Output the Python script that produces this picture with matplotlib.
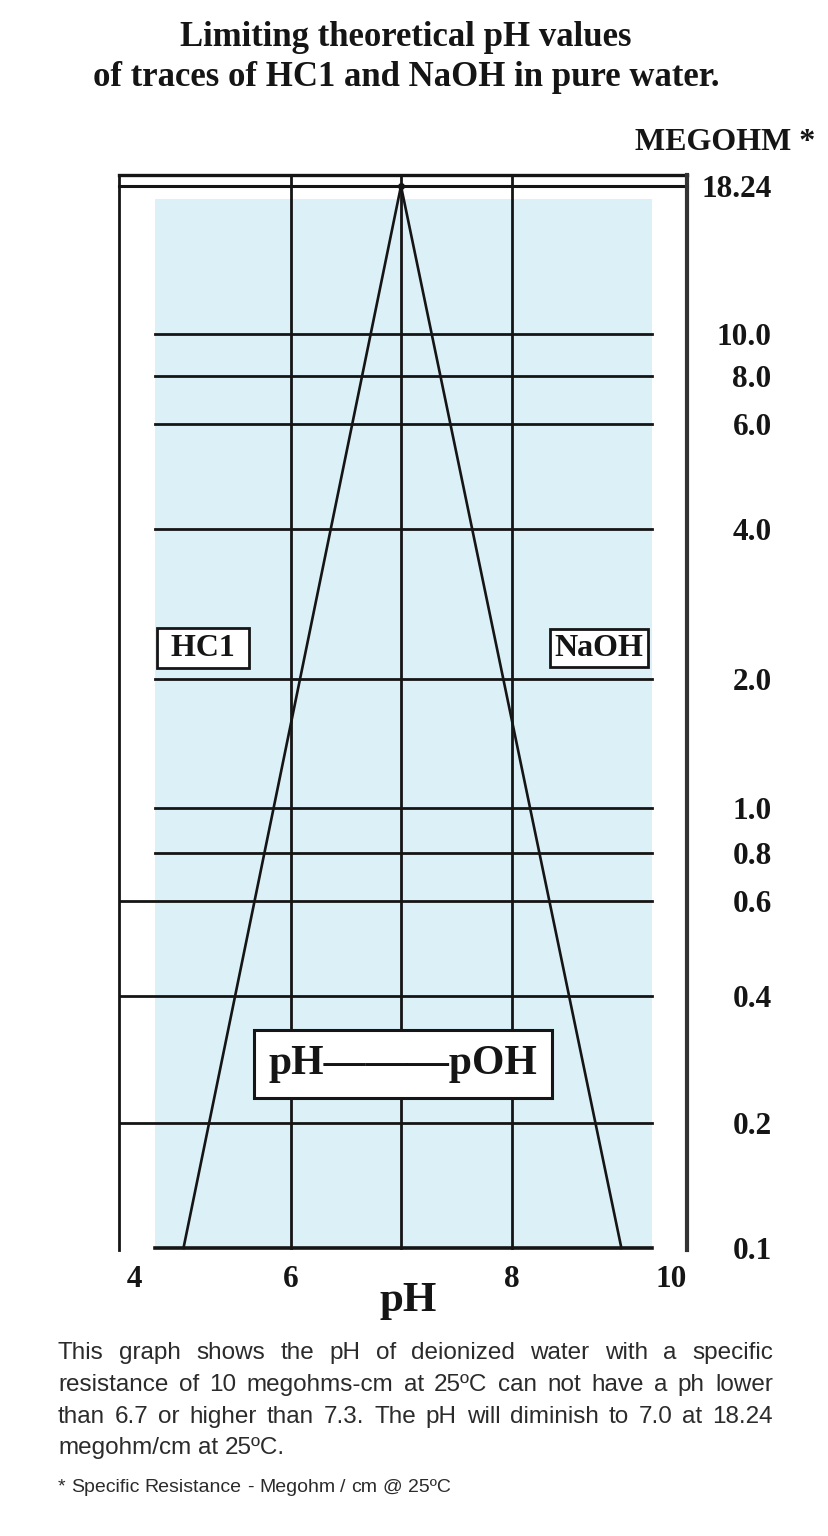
import numpy as np
import matplotlib
matplotlib.use("Agg")
import matplotlib.pyplot as plt
from matplotlib.patches import Rectangle

# printed scales of the original chart are not uniform, so calibrate them
ph_marks = [4, 6, 7, 8, 10]
ph_pix = [119, 291, 401, 512, 687]
res_marks = [0.1, 0.2, 0.4, 0.6, 0.8, 1.0, 2.0, 4.0, 6.0, 8.0, 10.0, 18.24]
res_pix = [1248, 1123, 996, 901, 853, 808, 679, 529, 424, 376, 334, 186]

# data
res_ticks = [0.1, 0.2, 0.4, 0.6, 0.8, 1.0, 2.0, 4.0, 6.0, 8.0, 10.0, 18.24]
res_labels = ["0.1", "0.2", "0.4", "0.6", "0.8", "1.0", "2.0", "4.0", "6.0", "8.0", "10.0", "18.24"]
ph_ticks = [4, 6, 8, 10]
ph_labels = [" 4", "6", "8", "10"]
grid_ph = [6, 7, 8]
grid_res_short = [0.8, 1.0, 2.0, 4.0, 6.0, 8.0, 10.0]
grid_res_long = [0.2, 0.4, 0.6]
line_res = [18.24, 0.1]
hcl_ph = [7.0, 4.75]
naoh_ph = [7.0, 9.25]

para = ["This graph shows the pH of deionized water with a specific",
        "resistance of 10 megohms-cm at 25ºC can not have a ph lower",
        "than 6.7 or higher than 7.3. The pH will diminish to 7.0 at 18.24",
        "megohm/cm at 25ºC."]
foot = "* Specific Resistance - Megohm / cm @ 25ºC"

W, H = 829, 1536
SERIF = "Liberation Serif"
SANS = "Liberation Sans"
INK = "#151515"

def fwd_x(x):
    return np.interp(x, ph_marks, ph_pix)

def inv_x(p):
    return np.interp(p, ph_pix, ph_marks)

lr = np.log10(res_marks)
ry = -np.array(res_pix, dtype=float)

def fwd_y(v):
    v = np.clip(np.asarray(v, dtype=float), 1e-6, None)
    return np.interp(np.log10(v), lr, ry)

def inv_y(p):
    return 10 ** np.interp(p, ry, lr)

fig = plt.figure(figsize=(W / 100, H / 100), dpi=100)
ax = fig.add_axes([119 / W, (H - 1248) / H, (687 - 119) / W, (1248 - 186) / H])
ax.set_xscale("function", functions=(fwd_x, inv_x))
ax.set_yscale("function", functions=(fwd_y, inv_y))
ax.set_xlim(4, 10)
ax.set_ylim(0.1, 18.24)
for s in ax.spines.values():
    s.set_visible(False)

# axes-fraction helpers for the frame decorations
def fx(px):
    return (px - 119) / 568

def fy(py):
    return (1248 - py) / 1062

ax.add_patch(Rectangle((fx(155), 0), fx(652) - fx(155), fy(199), transform=ax.transAxes,
                       fc="#dbf0f7", ec="none", zorder=0))

for v in grid_res_short:
    ax.axhline(v, xmin=fx(155), xmax=fx(652), color=INK, lw=2, zorder=2)
for v in grid_res_long:
    ax.axhline(v, xmin=0, xmax=fx(652), color=INK, lw=2, zorder=2)
ax.axhline(0.1, xmin=fx(155), xmax=fx(652), color=INK, lw=2.6, zorder=2, clip_on=False)
for v in grid_ph:
    ax.axvline(v, ymin=0, ymax=fy(175), color=INK, lw=2, zorder=2, clip_on=False)

# frame
ax.plot([0, 1], [fy(175), fy(175)], transform=ax.transAxes, color=INK, lw=2.4, clip_on=False)
ax.plot([0, 1], [1, 1], transform=ax.transAxes, color=INK, lw=2.2, clip_on=False)
ax.plot([0, 0], [fy(1250), fy(175)], transform=ax.transAxes, color=INK, lw=2, clip_on=False)
ax.plot([1, 1], [fy(1250), fy(175)], transform=ax.transAxes, color="#333333", lw=3, clip_on=False)

ax.plot(hcl_ph, line_res, color=INK, lw=1.9, zorder=3, clip_on=False)
ax.plot(naoh_ph, line_res, color=INK, lw=1.9, zorder=3, clip_on=False)
ax.plot([7.0], [18.24], marker="o", ms=4, color=INK, zorder=4, clip_on=False)

# ticks
ax.yaxis.tick_right()
ax.set_yticks(res_ticks, res_labels)
ax.tick_params(axis="y", length=0, pad=61)
for t in ax.get_yticklabels():
    t.set_ha("right")
    t.set_fontfamily(SERIF)
    t.set_fontweight("bold")
    t.set_fontsize(22.5)
    t.set_color(INK)
ax.set_xticks(ph_ticks, ph_labels)
ax.tick_params(axis="x", length=0, pad=12)
xt = ax.get_xticklabels()
for t in xt:
    t.set_fontfamily(SERIF)
    t.set_fontweight("bold")
    t.set_fontsize(22.5)
    t.set_color(INK)
xt[0].set_ha("left")
xt[-1].set_ha("right")
ax.minorticks_off()

ax.set_xlabel("pH", fontsize=31, fontweight="bold", family=SERIF, color=INK)
ax.xaxis.set_label_coords(fx(408), fy(1282))

# boxed labels
ax.text(fx(203), fy(648), " HC1 ", transform=ax.transAxes, ha="center", va="center",
        fontsize=23, fontweight="bold", family=SERIF, color=INK,
        bbox=dict(boxstyle="square,pad=0.18", fc="white", ec=INK, lw=2), zorder=5)
ax.text(fx(599), fy(648), "NaOH", transform=ax.transAxes, ha="center", va="center",
        fontsize=23, fontweight="bold", family=SERIF, color=INK,
        bbox=dict(boxstyle="square,pad=0.15", fc="white", ec=INK, lw=2), zorder=5)
box2 = dict(boxstyle="square,pad=0.35", fc="white", ec=INK, lw=2.2)
ax.text(fx(403), fy(1064), "pH\u2014\u2014\u2014pOH", transform=ax.transAxes, ha="center", va="center",
        fontsize=30, fontweight="bold", family=SERIF, color=INK, bbox=box2, zorder=5)

# titles
fig.text(406 / W, 1 - 38 / H, "Limiting theoretical pH values", ha="center", va="center",
         fontsize=25, fontweight="bold", family=SERIF, color=INK)
fig.text(406 / W, 1 - 78 / H, "of traces of HC1 and NaOH in pure water.", ha="center", va="center",
         fontsize=25, fontweight="bold", family=SERIF, color=INK)
fig.text(815 / W, 1 - 142 / H, "MEGOHM *", ha="right", va="center",
         fontsize=23, fontweight="bold", family=SERIF, color=INK)

# justified paragraph
r = fig.canvas.get_renderer()

def put_line(line, y, size, x0=58, x1=773, justify=True):
    words = line.split(" ")
    objs = [fig.text(0, 1 - y / H, w, ha="left", va="center", fontsize=size,
                     family=SANS, color="#2b2b2b") for w in words]
    widths = [o.get_window_extent(r).width for o in objs]
    a = fig.text(0, 0, "a a", fontsize=size, family=SANS)
    b = fig.text(0, 0, "aa", fontsize=size, family=SANS)
    space = a.get_window_extent(r).width - b.get_window_extent(r).width
    a.remove()
    b.remove()
    if justify and len(words) > 1:
        gap = (x1 - x0 - sum(widths)) / (len(words) - 1)
        gap = max(gap, space * 0.6)
    else:
        gap = space
    x = x0
    for o, wd in zip(objs, widths):
        o.set_x(x / W)
        x += wd + gap

para_y = [1353, 1385, 1417, 1448]
for i, (line, y) in enumerate(zip(para, para_y)):
    put_line(line, y, 17.5, justify=i < len(para) - 1)
put_line(foot, 1487, 14, justify=False)

fig.savefig("out.png", dpi=100)
